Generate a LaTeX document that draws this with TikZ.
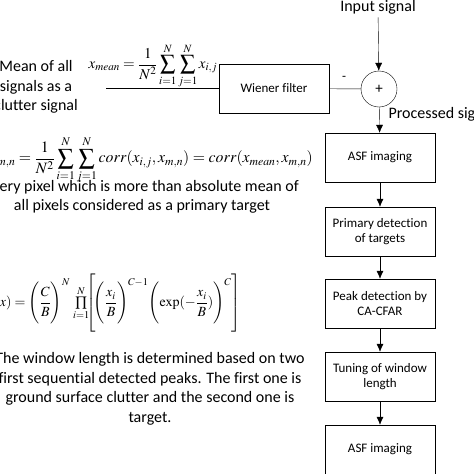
\documentclass[tikz,border=0pt]{standalone}
\usepackage{mathptmx}
\usepackage[no-math]{fontspec}
\setmainfont[Ligatures = NoCommon]{Carlito}
\usetikzlibrary{arrows.meta,
                positioning}

\begin{document}
\begin{tikzpicture}[x=1pt, y=-1pt,
        >={Latex[length = 8pt, width = 7pt]},
        stepbox/.style = {draw, minimum width = 110pt, minimum height = 49pt,
                          align = center, font = \fontsize{13}{15.5}\selectfont},
        note/.style = {align = center, font = \fontsize{16}{19.5}\selectfont},
        eqn/.style = {inner sep = 0pt}]
        \useasboundingbox (0, 0) rectangle (474, 474);
        \clip (0, 0) rectangle (474, 474);

        % signal path
        \node [note] (input) at (378, 7) {Input signal};
        \node [circle, draw, minimum size = 36pt, inner sep = 0pt,
               font = \fontsize{15}{15}\selectfont] (sum) at (379, 89) {+};
        \node [stepbox] (wiener) at (274, 88.5) {Wiener filter};
        \node [font = \fontsize{13}{13}\selectfont] at (344, 78) {-};
        \node [note, anchor = west] (processed) at (385, 114) {Processed signal};
        \coordinate (meanend) at (106, 88.5);

        % processing chain
        \node [stepbox] (asf1) at (380, 157.5) {ASF imaging};
        \node [stepbox] (prim) at (380, 231.5) {Primary detection\\of targets};
        \node [stepbox] (peak) at (380, 303.5) {Peak detection by\\CA-CFAR};
        \node [stepbox] (tune) at (380, 376.5) {Tuning of window\\length};
        \node [stepbox] (asf2) at (380, 449.5) {ASF imaging};

        \draw (meanend) -- (wiener);
        \draw (wiener) -- (sum);
        \draw [->] (input) -- (sum);
        \draw [->] (sum) -- (asf1);
        \draw [->] (asf1) -- (prim);
        \draw [->] (prim) -- (peak);
        \draw [->] (peak) -- (tune);
        \draw [->] (tune) -- (asf2);

        % notes and equations
        \node [note] (meantext) at (36, 87) {Mean of all\\signals as a\\clutter signal};
        \node [eqn, font = \fontsize{15}{17}\selectfont] (meaneq) at (153, 66)
            {$\displaystyle x_{mean}=\frac{1}{N^2}\sum_{i=1}^{N}\sum_{j=1}^{N}x_{i,j}$};
        \node [eqn, anchor = east, font = \fontsize{15.8}{18}\selectfont] (correq) at (313, 160)
            {$\displaystyle \rho_{m,n}=\frac{1}{N^2}\sum_{i=1}^{N}\sum_{j=1}^{N}corr(x_{i,j},x_{m,n})=corr(x_{mean},x_{m,n})$};
        \node [note] (pixeltext) at (142, 197)
            {Every pixel which is more than absolute mean of\\all pixels considered as a primary target};
        \node [eqn, anchor = east, font = \fontsize{14}{16}\selectfont] (weibeq) at (241, 304)
            {$\displaystyle f(x)=\Biggl(\frac{C}{B}\Biggr)^{N}\,\mathop{\textstyle\prod}\limits_{i=1}^{N}\!\!\!
             \left[\rule[-28pt]{0pt}{56pt}\!\Biggl(\frac{x_i}{B}\Biggr)^{C-1}\Biggl(\exp(-\frac{x_i}{B})\Biggr)^{C}\right]$};
        \node [note] (windowtext) at (150, 389)
            {The window length is determined based on two\\first sequential detected peaks. The first one is\\
             ground surface clutter and the second one is\\target.};
    \end{tikzpicture}
\end{document}
